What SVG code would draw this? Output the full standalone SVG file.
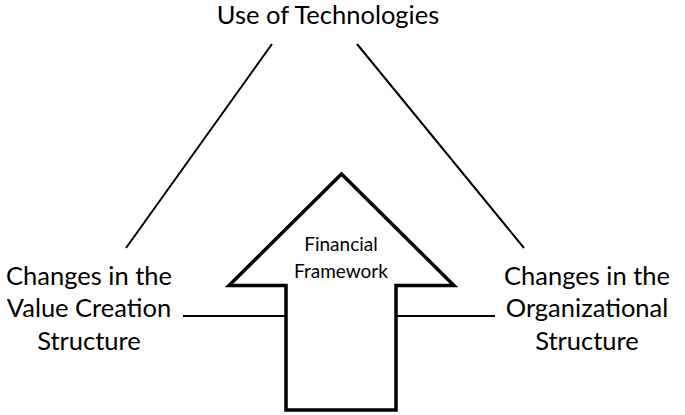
<svg xmlns="http://www.w3.org/2000/svg" width="685" height="415" viewBox="0 0 685 415">
<style>
.t{font-family:Lato,"Liberation Sans",sans-serif;fill:#000;text-anchor:middle}
.big{font-size:25.5px}
.small{font-size:19px}
.ln{stroke:#000;stroke-width:2;fill:none}
</style>
<rect width="685" height="415" fill="#fff"/>
<g id="connectors">
<line class="ln" x1="126" y1="248" x2="272" y2="44"/>
<line class="ln" x1="357" y1="44" x2="524" y2="248"/>
<line class="ln" x1="183" y1="316" x2="286" y2="316"/>
<line class="ln" x1="396" y1="316" x2="495" y2="316"/>
</g>
<g id="top">
<text class="t big" x="328" y="24">Use of Technologies</text>
</g>
<g id="arrow">
<polygon points="341.5,174 229,285.5 286,285.5 286,410 396,410 396,285.5 454,285.5" fill="#fff" stroke="#000" stroke-width="3.5" stroke-linejoin="miter"/>
<text class="t small" x="341" y="251">Financial</text>
<text class="t small" x="341" y="278">Framework</text>
</g>
<g id="left">
<text class="t big" x="89" y="285">Changes in the</text>
<text class="t big" x="89" y="317">Value Creation</text>
<text class="t big" x="89" y="350">Structure</text>
</g>
<g id="right">
<text class="t big" x="587" y="285">Changes in the</text>
<text class="t big" x="587" y="317">Organizational</text>
<text class="t big" x="587" y="350">Structure</text>
</g>
</svg>
